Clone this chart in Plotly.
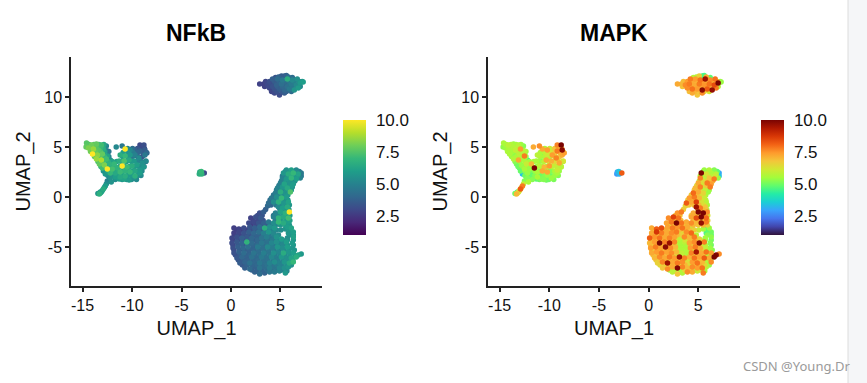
import plotly.graph_objects as go

W, H = 867, 383

# ---- main lower cluster + neck + upper lobe ----
body_x = [
 2.4,2.9,3.4,3.9,4.4,4.9,5.5,
 1.4,1.9,2.4,2.9,3.4,3.9,4.4,4.9,5.4,5.8,
 0.9,1.4,1.9,2.4,2.9,3.4,3.9,4.4,4.9,5.4,5.9,6.3,
 0.6,1.1,1.6,2.1,2.6,3.1,3.6,4.1,4.6,5.1,5.6,6.1,6.6,
 0.3,0.8,1.3,1.8,2.3,2.8,3.3,3.8,4.3,4.8,5.3,5.8,6.3,6.8,7.1,
 0.2,0.7,1.2,1.7,2.2,2.7,3.2,3.7,4.2,4.7,5.2,5.7,6.2,
 0.1,0.6,1.1,1.6,2.1,2.6,3.1,3.6,4.1,4.6,5.1,5.6,6.2,
 0.1,0.6,1.1,1.6,2.1,2.6,3.1,3.6,4.1,4.6,5.1,5.7,6.3,
 0.3,0.8,1.3,1.8,2.3,2.8,3.3,3.8,4.3,5.8,6.3,
 0.3,0.8,1.3,1.9,2.4,2.9,3.4,3.9,4.4,5.7,6.1,
 1.8,2.3,2.8,3.3,3.8,4.3,4.8,5.3,5.8,
 2.0,2.5,3.0,4.3,4.8,5.3,5.8,
 2.9,3.3,4.5,5.0,5.5,5.9,
 3.7,4.8,5.2,5.7,
 3.8,4.3,4.8,5.3,5.8,
 4.1,4.6,5.1,5.6,
 4.5,5.0,5.5,6.0,
 4.7,5.2,5.7,6.2,
 5.0,5.4,5.9,6.3,
 5.2,5.6,6.1,6.6,7.0,
 5.3,5.8,6.3,6.8,7.1,
 5.6,6.1,6.6,
]
body_y = [
 -7.5,-7.7,-7.6,-7.5,-7.5,-7.4,-7.6,
 -7.1,-7.2,-7.0,-7.1,-7.0,-7.1,-7.0,-7.1,-7.1,-7.0,
 -6.6,-6.5,-6.6,-6.5,-6.6,-6.5,-6.6,-6.5,-6.6,-6.5,-6.6,-6.5,
 -6.1,-6.0,-6.1,-6.0,-6.1,-6.0,-6.1,-6.0,-6.1,-6.0,-6.1,-6.1,-6.0,
 -5.6,-5.5,-5.6,-5.5,-5.6,-5.5,-5.6,-5.5,-5.6,-5.5,-5.6,-5.5,-5.6,-5.8,-5.7,
 -5.1,-5.0,-5.1,-5.0,-5.1,-5.0,-5.1,-5.0,-5.1,-5.0,-5.1,-5.0,-5.1,
 -4.6,-4.5,-4.6,-4.5,-4.6,-4.5,-4.6,-4.5,-4.6,-4.5,-4.6,-4.5,-4.6,
 -4.1,-4.0,-4.1,-4.0,-4.1,-4.0,-4.1,-4.0,-4.1,-4.0,-4.2,-4.1,-4.0,
 -3.6,-3.5,-3.6,-3.5,-3.6,-3.5,-3.6,-3.5,-3.6,-3.6,-3.5,
 -3.1,-3.2,-3.1,-3.0,-3.1,-3.0,-3.1,-3.0,-3.1,-3.0,-3.1,
 -2.6,-2.5,-2.6,-2.6,-2.5,-2.6,-2.5,-2.6,-2.5,
 -2.1,-2.0,-2.1,-2.0,-2.1,-2.0,-2.1,
 -1.6,-1.5,-1.6,-1.5,-1.6,-1.5,
 -0.9,-1.0,-1.1,-1.0,
 -0.6,-0.5,-0.5,-0.6,-0.5,
 -0.1,0.0,-0.1,0.0,
 0.4,0.5,0.4,0.5,
 0.9,1.0,0.9,1.0,
 1.4,1.3,1.4,1.3,
 1.9,1.8,1.9,1.8,1.9,
 2.4,2.3,2.4,2.3,2.4,
 2.7,2.7,2.7,
]
body_nfkb = [
 3.8,4.2,3.8,4.5,4.7,5.0,5.8,
 3.7,4.1,3.8,4.5,4.2,4.8,4.5,5.1,5.5,5.7,
 3.6,3.9,4.4,4.0,4.6,4.3,5.0,5.4,5.0,5.7,6.4,7.0,
 3.5,4.0,3.8,4.4,4.0,4.7,4.4,5.2,4.8,5.8,5.5,6.2,6.6,
 3.3,3.8,4.2,3.8,4.5,4.2,4.9,4.5,5.5,5.1,6.5,5.7,6.0,6.2,5.8,
 3.2,3.7,4.0,4.3,3.9,4.7,4.3,5.2,4.8,5.7,5.4,6.0,5.7,
 3.1,3.5,3.9,6.8,4.1,3.8,4.6,4.3,5.1,5.5,5.1,6.0,5.9,
 2.9,3.2,3.7,3.5,4.0,3.8,4.5,4.9,4.5,5.6,5.9,5.5,6.1,
 2.7,2.9,3.3,3.7,4.0,4.3,4.9,5.7,5.2,5.7,6.0,
 2.7,2.8,3.1,3.4,3.7,4.1,6.6,5.5,5.8,6.0,6.2,
 3.0,3.0,3.4,3.7,4.6,5.4,7.0,6.5,6.0,
 2.8,3.2,3.5,4.9,6.8,6.4,7.2,
 3.2,3.6,5.0,6.2,6.7,10.0,
 4.0,5.3,6.0,6.5,
 4.2,5.4,6.7,5.7,6.2,
 4.6,5.4,7.0,5.9,
 4.8,6.6,5.6,7.4,
 5.0,5.7,6.4,5.4,
 4.9,6.2,5.6,5.9,
 5.0,5.8,6.9,6.0,5.0,
 5.7,6.5,7.0,6.2,4.6,
 5.6,6.1,5.2,
]
body_mapk = [
 5.8,6.8,5.7,7.6,7.2,6.0,7.8,
 6.8,7.6,7.2,9.9,7.7,7.0,7.6,7.4,7.9,5.8,
 6.6,7.7,9.6,7.2,7.8,7.6,6.4,7.4,7.9,7.0,5.5,7.6,
 7.0,7.6,7.2,7.8,7.4,9.6,7.7,7.1,7.9,7.3,8.2,7.2,10.0,
 7.2,7.4,7.8,7.3,7.6,7.0,5.9,5.7,7.7,9.5,7.2,7.9,7.4,9.9,7.6,
 7.4,7.8,7.3,9.8,7.6,7.0,5.6,5.6,7.4,7.8,7.2,5.9,5.4,
 7.0,7.4,10.0,7.7,9.6,7.7,5.6,5.8,7.3,7.6,9.9,7.8,5.2,
 8.2,7.5,7.9,7.2,7.7,7.3,5.9,7.6,7.0,7.8,6.6,5.5,5.3,
 7.2,8.8,7.8,7.2,7.6,7.8,6.0,7.6,8.0,4.6,5.0,
 7.2,8.2,8.4,7.3,7.8,7.5,7.9,7.2,5.9,4.0,5.4,
 7.3,7.8,10.0,7.9,7.2,7.6,7.0,9.7,7.8,
 7.6,8.6,7.9,7.3,8.4,10.0,8.0,
 7.5,7.8,7.2,10.0,10.0,7.6,
 6.5,9.6,7.8,6.8,
 8.2,7.2,8.6,6.3,5.8,
 7.4,7.8,7.0,6.0,
 8.0,7.2,6.5,5.4,
 7.0,7.7,5.9,7.8,
 7.2,6.1,7.8,7.4,
 7.7,5.8,6.8,7.8,5.4,
 10.0,6.3,5.6,5.8,3.0,
 5.4,5.7,5.2,
]

# second layer of cells lying between the first ones
fill_x = [
 2.1,2.65,3.15,3.65,4.15,4.65,5.15,5.65,
 1.15,1.65,2.15,2.65,3.15,3.65,4.15,4.65,5.15,5.65,6.1,
 0.75,1.25,1.75,2.25,2.75,3.25,3.75,4.25,4.75,5.25,5.75,6.25,
 0.45,0.95,1.45,1.95,2.45,2.95,3.45,3.95,4.45,4.95,5.45,5.95,6.5,
 0.3,0.85,1.35,1.85,2.35,2.85,3.35,3.85,4.35,4.85,5.35,5.85,6.4,
 0.2,0.7,1.2,1.7,2.2,2.7,3.2,3.7,4.2,4.7,5.2,5.7,6.3,
 0.2,0.7,1.2,1.7,2.2,2.7,3.2,3.7,4.2,4.7,5.2,5.7,6.3,
 0.35,0.85,1.35,1.85,2.35,2.85,3.35,3.85,4.35,4.8,5.9,6.3,
 0.55,1.05,1.6,2.1,2.6,3.1,3.6,4.1,4.6,5.05,5.5,5.95,
 2.0,2.5,3.0,3.5,4.0,4.5,5.0,5.5,5.9,
 2.25,2.75,3.25,4.5,5.05,5.55,5.95,
 2.7,3.15,4.3,4.75,5.25,5.75,5.95,
 3.5,4.95,5.45,5.85,
 4.05,4.55,5.05,5.55,5.9,
 3.95,4.35,4.85,5.35,5.75,
 4.3,4.8,5.3,5.75,
 4.6,5.1,5.6,6.1,
 4.85,5.3,5.8,6.2,
 5.1,5.5,6.0,6.45,
 5.2,5.7,6.2,6.7,7.1,
 5.5,5.95,6.45,6.9,
]
fill_y = [
 -7.3,-7.4,-7.3,-7.3,-7.3,-7.3,-7.3,-7.4,
 -6.8,-6.8,-6.8,-6.8,-6.8,-6.8,-6.8,-6.8,-6.8,-6.8,-6.8,
 -6.3,-6.3,-6.3,-6.3,-6.3,-6.3,-6.3,-6.3,-6.3,-6.3,-6.3,-6.3,
 -5.8,-5.8,-5.8,-5.8,-5.8,-5.8,-5.8,-5.8,-5.8,-5.8,-5.8,-5.8,-5.9,
 -5.3,-5.3,-5.3,-5.3,-5.3,-5.3,-5.3,-5.3,-5.3,-5.3,-5.3,-5.3,-5.3,
 -4.8,-4.8,-4.8,-4.8,-4.8,-4.8,-4.8,-4.8,-4.8,-4.8,-4.8,-4.8,-4.8,
 -4.3,-4.3,-4.3,-4.3,-4.3,-4.3,-4.3,-4.3,-4.3,-4.3,-4.3,-4.3,-4.3,
 -3.8,-3.8,-3.8,-3.8,-3.8,-3.8,-3.8,-3.8,-3.8,-3.8,-3.8,-3.8,
 -3.3,-3.3,-3.3,-3.3,-3.3,-3.3,-3.3,-3.3,-3.3,-3.3,-3.2,-3.3,
 -2.8,-2.8,-2.8,-2.8,-2.8,-2.8,-2.8,-2.8,-2.8,
 -2.35,-2.35,-2.35,-2.35,-2.35,-2.35,-2.35,
 -1.85,-1.85,-1.85,-1.85,-1.85,-1.85,-1.85,
 -1.25,-1.25,-1.25,-1.25,
 -0.8,-0.8,-0.8,-0.8,-0.8,
 -0.3,-0.3,-0.3,-0.3,-0.3,
 0.2,0.2,0.2,0.2,
 0.7,0.7,0.7,0.7,
 1.15,1.15,1.15,1.15,
 1.6,1.6,1.6,1.6,
 2.1,2.1,2.1,2.1,2.1,
 2.55,2.55,2.55,2.55,
]
fill_nfkb = [
 3.7,3.8,3.9,4.1,4.3,4.5,4.9,5.1,
 3.5,3.8,3.9,4.0,4.2,4.4,4.5,4.7,5.0,5.3,5.5,
 3.4,3.6,3.8,3.9,4.1,4.3,4.4,4.6,4.8,5.0,5.3,5.7,
 3.2,3.5,3.7,3.9,4.0,4.2,4.3,4.5,4.7,4.9,5.2,5.5,5.8,
 3.1,3.3,3.6,3.8,3.9,4.1,4.3,4.5,4.7,4.9,5.2,5.4,5.6,
 3.0,3.2,3.4,3.7,3.9,4.1,4.2,4.4,4.6,4.9,5.2,5.4,5.7,
 2.8,3.0,3.3,3.6,3.7,4.0,4.2,4.4,4.7,5.0,5.3,5.5,5.7,
 2.6,2.8,3.0,3.3,3.6,3.8,4.2,4.6,4.9,5.3,5.5,5.7,
 2.6,2.6,2.8,3.1,3.4,3.7,4.4,4.9,5.2,5.4,5.6,5.8,
 2.6,2.9,3.2,3.5,4.2,5.1,5.7,5.9,5.7,
 2.6,3.0,3.3,4.6,5.7,6.0,6.1,
 3.0,3.3,4.4,5.1,5.5,5.7,5.9,
 3.7,4.9,5.5,5.8,
 4.0,4.7,5.2,5.5,5.7,
 4.1,4.4,5.0,5.4,5.6,
 4.5,4.9,5.3,5.7,
 4.7,5.2,5.6,5.8,
 4.7,5.2,5.6,5.9,
 4.6,5.2,5.5,5.3,
 4.6,5.4,5.7,5.7,4.5,
 4.9,5.5,5.3,4.8,
]
fill_mapk = [
 5.4,5.8,5.6,6.4,6.8,5.8,6.2,5.7,
 6.4,6.6,6.9,7.0,6.6,7.0,6.4,6.9,7.1,6.4,5.4,
 6.6,6.9,7.1,6.6,7.0,6.9,6.2,5.9,7.0,6.8,5.8,5.6,
 6.8,6.8,7.0,6.9,6.6,6.0,5.7,5.6,6.7,7.0,6.8,5.7,5.4,
 6.7,7.0,6.9,7.1,6.7,5.9,5.6,5.5,6.4,6.9,6.4,5.5,5.2,
 6.8,6.7,7.0,6.9,7.0,5.9,5.5,5.6,6.6,7.0,6.1,5.5,5.0,
 6.9,7.0,6.9,7.1,6.9,6.3,5.6,6.2,6.9,7.0,5.8,5.4,5.0,
 6.9,7.0,6.8,7.1,6.9,7.0,6.6,6.9,6.2,5.8,5.2,4.8,
 6.8,6.9,7.1,6.9,7.0,6.9,6.7,6.9,6.6,6.0,5.5,4.8,
 6.6,7.0,7.1,6.9,6.8,7.0,6.8,7.0,6.6,
 6.9,7.1,7.0,6.9,7.1,6.9,6.6,
 6.8,6.9,6.7,7.0,6.9,7.0,6.2,
 6.7,6.9,7.0,6.0,
 6.8,6.9,7.0,6.2,5.6,
 6.7,6.9,6.8,6.2,5.8,
 6.7,6.9,6.2,5.5,
 6.8,6.6,5.8,5.4,
 6.4,6.0,6.7,6.0,
 5.8,6.4,6.6,6.9,
 5.6,5.5,5.8,6.0,3.4,
 5.3,5.4,5.2,4.8,
]

# ---- upper-right island ----
top_x = [
 2.9,3.3,3.7,4.1,4.6,5.1,5.6,6.1,6.6,7.0,7.3,
 4.2,4.7,5.2,5.7,6.2,6.7,
 4.8,5.4,5.8,
 3.9,4.4,4.9,5.4,5.9,6.4,6.8,
 4.4,4.9,5.4,
 3.5,3.9,4.4,4.9,5.4,5.9,6.4,6.9,7.2,
 3.4,3.8,4.2,4.7,5.2,5.7,6.2,6.7,7.0,
 4.5,5.1,5.6,6.2,
 4.1,4.65,5.15,5.6,6.1,
]
top_y = [
 11.3,11.3,11.2,11.3,11.2,11.3,11.2,11.3,11.2,11.4,11.5,
 11.8,11.8,11.7,11.8,11.7,11.8,
 12.0,12.1,12.0,
 10.9,10.8,10.8,10.7,10.8,10.7,10.9,
 10.4,10.2,10.4,
 11.55,11.55,11.55,11.55,11.55,11.55,11.55,11.55,11.55,
 11.05,11.05,11.05,11.05,11.05,11.05,11.05,11.05,11.05,
 11.95,12.1,12.15,11.95,
 10.55,10.55,10.55,10.55,10.55,
]
top_nfkb = [
 2.8,2.7,3.0,3.2,3.8,4.3,3.9,4.7,5.2,5.8,6.0,
 3.7,4.2,4.6,6.6,5.2,5.5,
 3.8,3.6,4.2,
 2.9,3.3,3.7,4.0,4.6,5.6,5.9,
 3.0,3.1,3.6,
 2.9,3.2,3.6,3.9,4.2,4.5,4.8,5.2,5.6,
 2.8,3.0,3.3,3.7,4.0,4.3,4.6,5.0,5.2,
 3.4,3.6,3.8,4.2,
 2.9,3.3,3.5,3.8,4.2,
]
top_mapk = [
 7.2,7.0,7.6,7.8,7.2,7.8,7.5,7.9,8.4,10.0,5.4,
 7.8,7.4,7.9,9.6,7.6,7.9,
 5.6,4.4,7.2,
 7.6,7.9,7.4,9.8,8.2,9.7,7.8,
 7.2,6.8,7.6,
 6.9,7.4,7.2,7.0,7.3,7.1,7.0,7.2,5.4,
 6.8,7.0,7.2,7.0,7.2,7.0,7.1,7.0,5.8,
 5.8,6.6,4.6,4.8,
 6.9,7.0,6.8,6.6,6.2,
]

# ---- left cluster ----
left_x = [
 -14.6,-14.1,-13.6,-13.1,-12.6,
 -14.4,-13.9,-13.4,-12.9,-12.5,-11.6,-11.0,
 -14.0,-13.5,-13.0,-12.5,-10.7,-10.2,-9.7,-9.2,-8.8,
 -13.6,-13.1,-12.6,-12.2,-11.2,-10.7,-10.2,-9.7,-9.2,-8.7,
 -13.3,-12.8,-12.3,-11.8,-11.3,-10.8,-10.3,-9.8,-9.3,-8.7,-8.5,
 -13.0,-12.5,-12.0,-11.5,-11.0,-10.5,-10.0,-9.5,-9.0,-8.6,
 -12.7,-12.2,-11.7,-11.2,-10.7,-10.2,-9.7,-9.2,-8.8,
 -12.2,-11.7,-11.2,-10.7,-10.2,-9.7,-9.2,
 -12.5,-12.1,-11.3,-10.8,-10.3,-9.8,
 -12.7,-12.9,-13.1,-13.3,-13.2,
 -14.35,-13.85,-13.35,-12.85,
 -14.65,-14.15,-13.65,-13.15,-12.7,
 -14.2,-13.7,-13.2,-12.75,-12.35,
 -13.8,-13.3,-12.8,-12.35,-10.95,-10.45,-9.95,-9.45,-8.95,
 -10.45,-9.95,-9.45,-9.0,-8.75,
 -10.9,-10.4,-9.9,-9.4,-8.9,-8.55,
 -13.45,-12.95,-12.45,-12.0,-11.55,-11.05,-10.55,-10.05,-9.55,-9.05,-8.6,
 -13.15,-12.7,-12.2,-11.75,-11.25,-10.75,-10.25,-9.75,-9.25,-8.8,
 -12.9,-12.45,-11.95,-11.45,-10.95,-10.45,-9.95,-9.45,-9.0,
 -12.45,-11.95,-11.45,-10.95,-10.45,-9.95,-9.45,-9.1,
 -12.3,-11.7,-11.0,-10.55,-10.05,-9.55,
 -12.6,-12.8,-13.0,-13.2,-13.45,
]
left_y = [
 5.4,5.2,5.3,5.2,5.1,
 4.9,4.8,4.7,4.8,4.6,5.0,5.1,
 4.3,4.2,4.3,4.1,4.8,4.7,4.7,5.2,5.2,
 3.8,3.7,3.8,3.7,4.2,4.1,4.2,4.2,4.6,4.7,
 3.3,3.2,3.3,3.3,3.6,3.6,3.7,3.6,3.9,4.2,4.4,
 2.9,2.8,2.8,2.9,3.1,3.0,3.1,3.2,3.4,3.6,
 2.3,2.4,2.4,2.5,2.6,2.5,2.6,2.7,3.0,
 1.9,2.0,2.0,2.1,2.2,2.1,2.4,
 1.6,1.5,1.8,1.8,1.7,1.9,
 1.1,0.8,0.5,0.3,0.5,
 5.25,5.25,5.25,5.25,
 5.0,5.0,5.0,5.0,5.0,
 4.55,4.55,4.55,4.55,4.55,
 4.05,4.05,4.05,4.05,4.05,4.05,4.05,4.05,4.05,
 4.85,4.85,4.85,4.9,4.85,
 4.45,4.45,4.45,4.45,4.45,4.45,
 3.55,3.55,3.55,3.55,3.55,3.55,3.55,3.55,3.55,3.55,3.55,
 3.05,3.05,3.05,3.05,3.05,3.05,3.05,3.05,3.05,3.05,
 2.6,2.6,2.6,2.6,2.6,2.6,2.6,2.6,2.6,
 2.15,2.15,2.15,2.15,2.15,2.15,2.15,2.15,
 1.75,1.75,1.75,1.75,1.75,1.75,
 1.3,0.95,0.65,0.4,0.35,
]
left_nfkb = [
 7.6,8.0,7.8,7.2,5.0,
 8.2,8.6,7.6,6.6,3.6,5.2,4.6,
 10.0,8.4,7.8,6.2,10.0,5.2,3.8,3.0,3.2,
 8.6,8.9,7.2,5.4,6.6,7.0,5.8,5.0,3.8,3.6,
 7.8,8.2,6.8,7.0,6.6,7.4,6.4,5.9,5.3,4.6,4.0,
 7.2,10.0,7.3,6.8,10.0,7.1,6.6,6.1,5.5,5.3,
 5.8,7.0,6.4,7.1,6.8,7.0,6.3,5.9,5.7,
 5.6,6.0,6.4,6.6,5.9,6.7,6.0,
 5.0,5.6,6.0,6.2,5.9,5.5,
 6.0,6.5,6.2,6.7,5.8,
 7.4,7.6,7.2,6.4,
 7.8,8.0,7.6,7.0,5.2,
 8.0,7.8,7.4,6.2,4.6,
 7.8,7.6,6.9,5.2,5.9,5.2,4.5,3.8,3.4,
 5.2,4.2,3.4,3.0,3.2,
 6.0,5.6,4.8,4.0,3.6,3.8,
 7.4,7.2,6.7,6.2,6.1,6.2,6.0,5.7,5.1,4.5,4.3,
 6.9,6.7,6.4,6.4,6.2,6.4,6.1,5.7,5.3,4.9,
 5.6,6.2,6.0,6.2,6.3,6.1,5.9,5.5,5.3,
 5.2,5.5,5.9,6.0,5.9,5.7,5.5,5.3,
 4.8,5.4,5.7,5.7,5.5,5.3,
 5.4,5.8,6.0,6.2,5.6,
]
left_mapk = [
 5.6,5.8,5.4,5.7,5.2,
 5.4,5.6,5.9,7.4,5.8,7.2,7.6,
 5.6,5.2,5.8,7.8,7.2,7.4,5.8,7.7,10.0,
 5.7,7.2,5.6,4.4,5.8,5.2,6.0,7.4,7.8,9.8,
 5.0,5.4,6.0,7.0,5.6,5.0,7.2,7.1,7.7,7.2,7.4,
 4.8,5.6,5.4,10.0,5.8,7.0,7.4,6.0,7.2,6.2,
 3.4,5.4,4.8,5.6,7.2,7.2,5.2,6.0,5.8,
 5.2,4.8,5.6,5.0,5.4,4.9,5.6,
 5.2,5.6,4.8,5.2,5.0,5.4,
 7.8,8.2,6.0,7.0,4.2,
 5.6,5.7,5.5,5.4,
 5.3,5.6,5.7,5.8,5.2,
 5.6,5.5,5.7,5.8,5.5,
 5.4,5.6,5.7,5.5,5.6,5.7,5.8,6.2,6.8,
 5.6,6.0,6.8,7.0,7.2,
 5.6,5.8,6.2,6.8,7.0,5.9,
 5.2,5.4,5.6,5.5,5.6,5.4,5.8,6.2,6.4,6.6,5.8,
 5.0,5.2,5.4,5.2,5.4,5.6,5.6,5.8,5.9,5.8,
 4.9,5.2,5.0,5.4,5.2,5.4,5.2,5.6,5.4,
 5.0,4.9,5.2,5.0,5.2,5.0,5.4,5.2,
 5.0,5.2,5.0,5.2,5.0,5.1,
 6.0,6.6,6.2,6.4,5.0,
]

# ---- tiny middle cluster ----
mid_x = [-3.2,-3.0,-2.7,-2.95,-3.15]
mid_y = [2.3,2.55,2.4,2.3,2.5]
mid_nfkb = [6.6,7.0,3.0,6.8,6.4]
mid_mapk = [2.8,3.4,8.2,3.2,3.0]

for grp in [(body_x,body_y,body_nfkb,body_mapk),(fill_x,fill_y,fill_nfkb,fill_mapk),
            (top_x,top_y,top_nfkb,top_mapk),
            (left_x,left_y,left_nfkb,left_mapk),(mid_x,mid_y,mid_nfkb,mid_mapk)]:
    assert len({len(g) for g in grp}) == 1, [len(g) for g in grp]

all_x = body_x + fill_x + top_x + left_x + mid_x
all_y = body_y + fill_y + top_y + left_y + mid_y
all_nfkb = body_nfkb + fill_nfkb + top_nfkb + left_nfkb + mid_nfkb
all_mapk = body_mapk + fill_mapk + top_mapk + left_mapk + mid_mapk

panel_titles = ["NFkB", "MAPK"]
colorscales = ["Viridis", "Turbo"]
x_ticks = [-15, -10, -5, 0, 5]
x_labels = ["-15", "-10", "-5", "0", "5"]
y_ticks = [-5, 0, 5, 10]
y_labels = ["-5", "0", "5", "10"]
cbar_ticks = [2.5, 5, 7.5, 10]

FONT = "Liberation Sans"
INK = "#222222"
panels = [
    dict(l=71, r=322, cb=343, vals=all_nfkb),
    dict(l=488, r=740, cb=761, vals=all_mapk),
]
TOP, BOTTOM = 57, 286

fig = go.Figure()
for i, p in enumerate(panels):
    n = "" if i == 0 else "2"
    order = sorted(range(len(all_x)), key=lambda k: p["vals"][k])
    fig.add_trace(go.Scatter(
        x=[all_x[k] for k in order], y=[all_y[k] for k in order],
        mode="markers", xaxis="x" + n, yaxis="y" + n, showlegend=False,
        marker=dict(
            size=5.5, color=[p["vals"][k] for k in order], colorscale=colorscales[i],
            cmin=1, cmax=10, line=dict(width=0),
            colorbar=dict(
                x=p["cb"] / W, xanchor="left", xpad=0,
                y=1 - 120 / H, yanchor="top", ypad=0,
                lenmode="pixels", len=115, thickness=23,
                outlinewidth=0, ticks="outside", ticklen=7, tickcolor="white",
                tickvals=cbar_ticks, tickformat=".1f",
                tickfont=dict(family=FONT, size=17, color="#111111"),
            ),
        ),
    ))
    axis = dict(showgrid=False, zeroline=False, showline=True, linecolor=INK, linewidth=1.5,
                ticks="outside", ticklen=4, tickwidth=1.5, tickcolor=INK,
                tickfont=dict(family=FONT, size=16, color="#111111"))
    fig.update_layout(**{
        "xaxis" + n: dict(axis, domain=[p["l"] / W, p["r"] / W], range=[-16.17, 9.2],
                          tickvals=x_ticks, ticktext=x_labels, anchor="y" + n,
                          title=dict(text="UMAP_1", font=dict(family=FONT, size=20, color="#111111"), standoff=8)),
        "yaxis" + n: dict(axis, domain=[1 - BOTTOM / H, 1 - TOP / H], range=[-8.9, 14],
                          tickvals=y_ticks, ticktext=y_labels, anchor="x" + n,
                          title=dict(text="UMAP_2", font=dict(family=FONT, size=20, color="#111111"), standoff=8)),
    })
    fig.add_annotation(text="<b>%s</b>" % panel_titles[i], xref="paper", yref="paper",
                       x=((p["l"] + p["r"]) / 2 - 0.5) / W, y=1 - 33 / H, showarrow=False,
                       xanchor="center", yanchor="middle",
                       font=dict(family=FONT, size=23, color="#000000"))

fig.add_annotation(text="CSDN @Young.Dr", xref="paper", yref="paper",
                   x=852 / W, y=1 - 366 / H, xanchor="right", yanchor="middle",
                   showarrow=False, font=dict(family="Noto Sans", size=13, color="#9a9a9a"))
fig.add_shape(type="rect", xref="paper", yref="paper", x0=848 / W, x1=1, y0=0, y1=1,
              fillcolor="#f5f6f8", line=dict(width=0), layer="below")
fig.add_shape(type="line", xref="paper", yref="paper", x0=848 / W, x1=848 / W, y0=0, y1=1,
              line=dict(color="#dcdcdc", width=1), layer="below")

fig.update_layout(width=W, height=H, autosize=False, margin=dict(l=0, r=0, t=0, b=0),
                  paper_bgcolor="white", plot_bgcolor="white")
fig.write_html("out.html", post_script="document.body.style.margin='0';",
               config={"displayModeBar": False})
